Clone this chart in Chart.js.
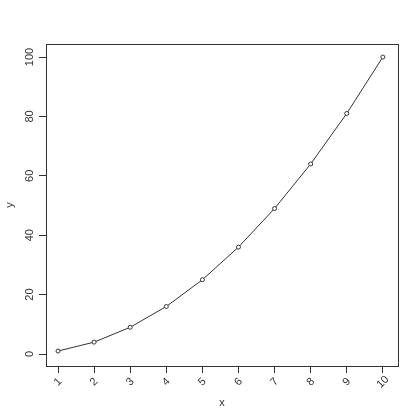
<!DOCTYPE html>
<html>
<head>
<script src="https://cdn.jsdelivr.net/npm/chart.js@4"></script>
<style>
  body { margin: 0; background: #fff; }
  #wrap { width: 419px; height: 420px; }
</style>
</head>
<body>
<div id="wrap"><canvas id="myChart"></canvas></div>
<script>
// data: y = x^2
const xValues = [1, 2, 3, 4, 5, 6, 7, 8, 9, 10];
const yValues = [1, 4, 9, 16, 25, 36, 49, 64, 81, 100];
const yTicks = [0, 20, 40, 60, 80, 100];

const FONT = "Liberation Sans, Arial, sans-serif";
const INK = "#333";

// R-style box, rotated tick labels and axis titles
const rStyle = {
  id: "rStyle",
  afterDraw(c) {
    const ctx = c.ctx, a = c.chartArea;
    const xs = c.scales.x, ys = c.scales.y;
    ctx.save();
    ctx.strokeStyle = INK;
    ctx.lineWidth = 1;
    ctx.strokeRect(a.left + 0.5, a.top + 0.5, a.right - a.left, a.bottom - a.top);
    ctx.fillStyle = INK;
    ctx.font = "11px " + FONT;
    // x labels at 45 degrees
    xValues.forEach((v) => {
      ctx.save();
      ctx.translate(xs.getPixelForValue(v), a.bottom + 16);
      ctx.rotate(-Math.PI / 4);
      ctx.textAlign = "center";
      ctx.textBaseline = "middle";
      ctx.fillText(String(v), 0, 0);
      ctx.restore();
    });
    // y labels vertical
    yTicks.forEach((v) => {
      ctx.save();
      ctx.translate(a.left - 16, ys.getPixelForValue(v));
      ctx.rotate(-Math.PI / 2);
      ctx.textAlign = "center";
      ctx.textBaseline = "middle";
      ctx.fillText(String(v), 0, 0);
      ctx.restore();
    });
    ctx.textAlign = "center";
    ctx.textBaseline = "middle";
    ctx.fillText("x", (a.left + a.right) / 2, 403);
    ctx.save();
    ctx.translate(10, (a.top + a.bottom) / 2);
    ctx.rotate(-Math.PI / 2);
    ctx.fillText("y", 0, 0);
    ctx.restore();
    ctx.restore();
  },
};

const config = {
  type: "line",
  data: {
    datasets: [
      {
        data: xValues.map((x, i) => ({ x: x, y: yValues[i] })),
        borderColor: INK,
        borderWidth: 1,
        tension: 0,
        pointRadius: 2,
        pointBorderWidth: 1,
        pointBackgroundColor: "#fff",
        pointBorderColor: INK,
      },
    ],
  },
  options: {
    responsive: true,
    maintainAspectRatio: false,
    animation: false,
    layout: { padding: { top: 44, right: 21, left: 0, bottom: 0 } },
    plugins: { legend: { display: false }, tooltip: { enabled: false } },
    scales: {
      x: {
        type: "linear",
        min: 0.667,
        max: 10.42,
        afterBuildTicks: (s) => { s.ticks = xValues.map((v) => ({ value: v })); },
        afterFit: (s) => { s.height = 54; },
        ticks: { display: false },
        grid: { drawOnChartArea: false, tickLength: 7, color: INK },
        border: { display: false },
      },
      y: {
        min: -4.04,
        max: 104.4,
        afterBuildTicks: (s) => { s.ticks = yTicks.map((v) => ({ value: v })); },
        afterFit: (s) => { s.width = 46; },
        ticks: { display: false },
        grid: { drawOnChartArea: false, tickLength: 7, color: INK },
        border: { display: false },
      },
    },
  },
  plugins: [rStyle],
};

new Chart(document.getElementById("myChart"), config);
</script>
</body>
</html>
